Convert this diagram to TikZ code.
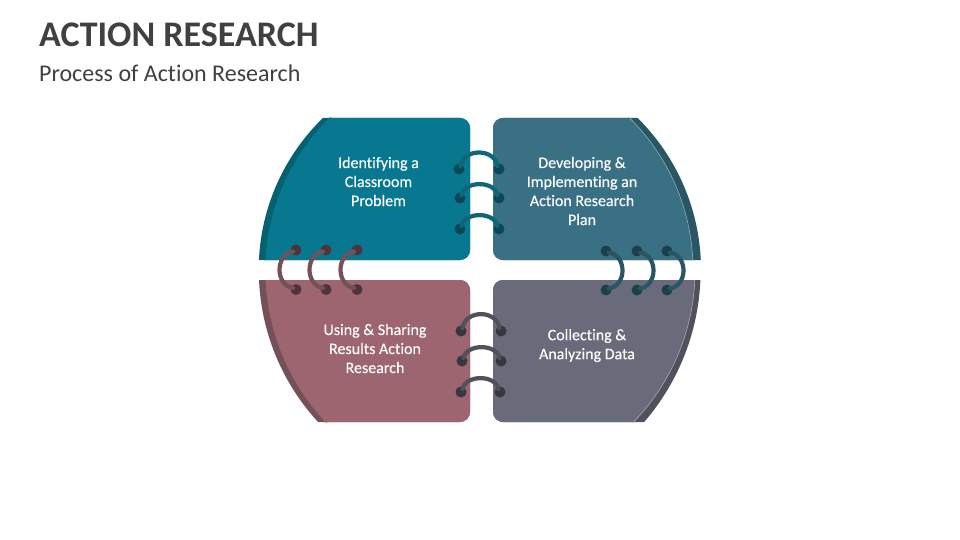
\documentclass[tikz,border=0pt]{standalone}
\usepackage{fontspec}
\setmainfont[Ligatures=NoCommon]{Carlito}
\newfontfamily\panelfont[Ligatures=NoCommon,FakeBold=0.2]{Carlito}
\definecolor{Petrol}{HTML}{077890}
\definecolor{PetrolDark}{HTML}{05606F}
\definecolor{PetrolRing}{HTML}{0D6778}
\definecolor{PetrolHole}{HTML}{0A4855}
\definecolor{Slate}{HTML}{3A7084}
\definecolor{SlateDark}{HTML}{2A5664}
\definecolor{SlateHole}{HTML}{1C3F4A}
\definecolor{Rosewood}{HTML}{9C656F}
\definecolor{RosewoodDark}{HTML}{74505A}
\definecolor{RosewoodHole}{HTML}{4D343C}
\definecolor{Ash}{HTML}{6A6B7A}
\definecolor{AshDark}{HTML}{50515D}
\definecolor{AshHole}{HTML}{36363F}
\definecolor{TitleGrey}{HTML}{404040}
\newcommand{\bookpanel}[8]{%
% outer centre x, outer radius, inner centre x, inner radius,
% left x, top y, right x, bottom y
  \begin{scope}
    \clip (#1,270) circle (#2);
    \fill[rounded corners=10,\panelband] (#5,#6) rectangle (#7,#8);
  \end{scope}
  \begin{scope}
    \clip (#3,270) circle (#4);
    \fill[rounded corners=10,\panelfill] (#5,#6) rectangle (#7,#8);
  \end{scope}
  \begin{scope}
    \clip (#5,#6) rectangle (#7,#8);
    \draw[\panelrim,line width=0.6pt] (#3,270) circle (#4);
  \end{scope}
}
\tikzset{
  holedot/.style={circle,fill=#1,inner sep=0pt,minimum size=11pt},
  ringline/.style={draw=#1,line width=4.2pt,line cap=round},
  paneltext/.style={text=white,font=\panelfont\fontsize{16}{19}\selectfont,align=center}
}
\begin{document}
\begin{tikzpicture}[x=1pt,y=-1pt]
  \useasboundingbox (0,0) rectangle (960,540);
  \node[anchor=base west,inner sep=0pt,text=TitleGrey,font=\fontsize{36}{40}\selectfont\bfseries]
    (title) at (39,46.5) {ACTION RESEARCH};
  \node[anchor=base west,inner sep=0pt,text=TitleGrey,font=\fontsize{24}{28}\selectfont]
    (subtitle) at (39,82) {Process of Action Research};
  % panels
  \def\panelband{PetrolDark}\def\panelfill{Petrol}\def\panelrim{Petrol}
  \bookpanel{470.7}{212}{477.7}{212}{220}{118}{470}{260}
  \def\panelband{SlateDark}\def\panelfill{Slate}\def\panelrim{Slate!60!white}
  \bookpanel{487}{214}{479}{214}{493}{118}{740}{260}
  \def\panelband{RosewoodDark}\def\panelfill{Rosewood}\def\panelrim{Rosewood}
  \bookpanel{483.4}{224.6}{487.7}{222}{220}{280}{470}{422}
  \def\panelband{AshDark}\def\panelfill{Ash}\def\panelrim{Ash!60!white}
  \bookpanel{467.6}{233}{476}{219}{493}{280}{740}{422}
  % texts
  \node[paneltext] (identify) at (378.5,181.5) {Identifying a\\Classroom\\Problem};
  \node[paneltext] (develop) at (582,191) {Developing \&\\Implementing an\\Action Research\\Plan};
  \node[paneltext] (share) at (375,348.5) {Using \& Sharing\\Results Action\\Research};
  \node[paneltext] (collect) at (587,345.5) {Collecting \&\\Analyzing Data};
  % rings
  \foreach \n/\lx/\rx/\hy/\lift in {1/459/499/169/18,2/460/499/198/14.5,3/460/499/229/14.5}{
    \node[holedot=PetrolHole] (tl\n) at (\lx,\hy) {};
    \node[holedot=PetrolHole] (tr\n) at (\rx,\hy) {};
    \draw[ringline=PetrolRing] ([shift={(1.5,-3)}]tl\n.center) .. controls +(3,-\lift) and +(-3,-\lift) .. ([shift={(-1.5,-3)}]tr\n.center);
  }
  \foreach \n/\lx/\rx/\hy/\lift in {1/461/501/331/18.5,2/462/501/361/14.5,3/461/500/392/14.5}{
    \node[holedot=AshHole] (bl\n) at (\lx,\hy) {};
    \node[holedot=AshHole] (br\n) at (\rx,\hy) {};
    \draw[ringline=AshDark] ([shift={(1.5,-3)}]bl\n.center) .. controls +(3,-\lift) and +(-3,-\lift) .. ([shift={(-1.5,-3)}]br\n.center);
  }
  \foreach \n/\hx in {1/296,2/326,3/357}{
    \node[holedot=RosewoodHole] (lu\n) at (\hx,250) {};
    \node[holedot=RosewoodHole] (ld\n) at (\hx,289.5) {};
    \draw[ringline=RosewoodDark] ([shift={(-3,1.5)}]lu\n.center) .. controls +(-18,3) and +(-18,-3) .. ([shift={(-3,-1.5)}]ld\n.center);
  }
  \foreach \n/\hx in {1/606,2/637,3/667}{
    \node[holedot=SlateHole] (ru\n) at (\hx,251) {};
    \node[holedot=SlateHole] (rd\n) at (\hx,290) {};
    \draw[ringline=SlateDark] ([shift={(3,1.5)}]ru\n.center) .. controls +(18,3) and +(18,-3) .. ([shift={(3,-1.5)}]rd\n.center);
  }
\end{tikzpicture}
\end{document}
